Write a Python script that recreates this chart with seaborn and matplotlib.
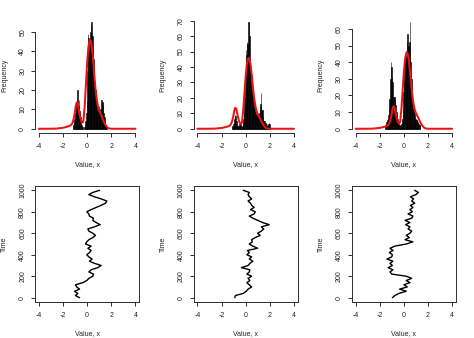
import numpy as np
import pandas as pd
import matplotlib
matplotlib.use("Agg")
import matplotlib.pyplot as plt
import seaborn as sns

# ---------------- data ----------------
BIN_W = 0.05

hist1_lo = -1.2
hist1_counts = [1, 2, 3, 5, 8, 11, 13, 15, 20, 12, 15, 9, 6, 3, 2, 1, 1, 0, 0, 1,
                2, 4, 8, 14, 30, 49, 47, 40, 45, 50, 53, 55, 48, 41, 36, 30, 24, 20,
                17, 12, 10, 9, 10, 12, 8, 6, 10, 15, 11, 14, 13, 8, 6, 4, 2, 1, 1]

hist2_lo = -1.15
hist2_counts = [1, 2, 3, 4, 6, 9, 8, 5, 3, 2, 1, 2, 3, 2, 3, 2, 1, 2, 4, 6, 10, 20,
                35, 51, 48, 56, 55, 69, 69, 60, 45, 40, 35, 30, 25, 20, 17, 14, 12,
                10, 9, 8, 8, 7, 8, 10, 15, 16, 23, 12, 12, 8, 5, 4, 5, 4, 3, 2, 3, 2,
                3, 4, 3]

hist3_lo = -1.6
hist3_counts = [1, 2, 3, 4, 5, 6, 8, 12, 18, 30, 40, 37, 31, 28, 19, 19, 19, 17, 14,
                10, 8, 6, 5, 3, 2, 2, 1, 2, 3, 6, 12, 22, 30, 40, 42, 47, 44, 52, 57,
                50, 45, 52, 64, 40, 30, 22, 16, 12, 10, 9, 7, 6, 5, 5, 4, 3, 3, 2, 2]

dens_x = [-4, -3, -2.5, -2.0, -1.8, -1.6, -1.4, -1.3, -1.2, -1.1, -1.0, -0.95, -0.9,
          -0.85, -0.8, -0.75, -0.7, -0.6, -0.5, -0.4, -0.35, -0.3, -0.2, -0.1, 0,
          0.1, 0.2, 0.25, 0.3, 0.4, 0.5, 0.6, 0.7, 0.8, 0.9, 1.0, 1.1, 1.2, 1.3, 1.4,
          1.5, 1.6, 1.7, 1.8, 2.0, 2.5, 3, 4]
dens_y = [0, 0, 0.1, 0.5, 0.8, 1.2, 1.7, 2.2, 3.2, 5.5, 9, 11.5, 13, 13.6, 13.2, 12,
          10, 6.5, 4, 3.2, 3.4, 4.5, 12, 23, 34, 42, 45.5, 46, 45.5, 42, 35, 27, 20,
          15, 11.5, 9.5, 8, 6.5, 4.8, 3.3, 2.2, 1.2, 0.5, 0.2, 0, 0, 0, 0]

trace_time = list(range(0, 1001, 20))
trace1 = [-0.63, -0.97, -0.77, -1.05, -0.63, -0.86, -0.97, -0.36, -0.03, 0.14, 0.47,
          0.52, 0.14, 0.33, 0.88, 1.16, 0.6, 0.19, 0.41, 0.14, -0.03, 0.19, 0.33, 0.06,
          0.33, -0.14, -0.03, 0.14, 0.47, 0.69, 0.47, 0.14, 0.06, 0.6, 1.08, 0.74, 0.47,
          0.52, 0.19, 0.14, -0.03, 0.33, 0.74, 1.16, 1.52, 1.63, 1.16, 0.6, 0.14, 0.47,
          1.02]
trace2 = [-0.9, -0.85, -0.2, 0.05, 0.2, 0.5, 0.3, 0.1, 0.35, 0.2, 0.5, 0.1, 0.3, 0.35,
          -0.35, 0.2, 0.35, 0.6, 0.3, 0.5, 0.1, 0.3, 0.15, 1.0, 0.6, 0.3, 0.55, 0.5, 0.8,
          1.2, 1.0, 1.3, 1.5, 1.3, 1.95, 1.4, 1.0, 0.6, 0.3, 0.7, 0.8, 0.4, 0.7, 0.5,
          0.4, 0.2, 0.5, 0.3, 0.2, 0.3, -0.2]
trace3 = [-0.95, -0.75, -0.4, 0.2, -0.35, 0.28, 0.0, 0.5, 0.2, 0.65, 0.2, -1.0, -1.15,
          -0.9, -1.3, -0.95, -1.15, -0.9, -1.4, -1.0, -0.95, -1.2, -0.9, -1.15, -0.75,
          0.2, 0.75, 0.1, 0.45, 0.2, 0.5, 0.65, 0.35, 0.5, 0.15, 0.5, 0.1, 0.65, 0.75,
          0.35, 0.7, 0.5, 0.75, 0.55, 0.9, 0.65, 0.8, 0.55, 1.0, 1.2, 0.9]

x_ticks = [-4, -2, 0, 2, 4]
time_ticks = [0, 200, 400, 600, 800, 1000]

# ---------------- style ----------------
sns.set_style("ticks")
plt.rcParams["font.family"] = ["Liberation Sans", "DejaVu Sans"]
FS = 5.0
LW = 0.72
TXT = "#222222"

W, H = 474, 338
fig = plt.figure(figsize=(W / 100, H / 100), dpi=100)
fig.patch.set_facecolor("white")

col_left = [35, 193.5, 351.7]
col_w = 104.3
row_top = [18, 186]
row_h = [115, 116]


def make_ax(c, r):
    l = col_left[c] / W
    b = 1 - (row_top[r] + row_h[r]) / H
    return fig.add_axes([l, b, col_w / W, row_h[r] / H])


def style(ax, ylab):
    ax.set_facecolor("white")
    ax.tick_params(axis="both", labelsize=FS, length=2.9, width=LW, color="#333333",
                   direction="out", labelcolor=TXT)
    ax.tick_params(axis="x", pad=4.0)
    ax.tick_params(axis="y", pad=3.4)
    for lab in ax.get_yticklabels():
        lab.set_rotation(90)
        lab.set_va("center")
    ax.set_xlabel("Value, x", fontsize=FS, labelpad=8.5, color=TXT)
    ax.set_ylabel(ylab, fontsize=FS, labelpad=8.0, color=TXT)
    for s in ax.spines.values():
        s.set_linewidth(LW)
        s.set_color("#333333")


hists = [(hist1_lo, hist1_counts), (hist2_lo, hist2_counts), (hist3_lo, hist3_counts)]
dens_df = pd.DataFrame({"x": dens_x, "y": dens_y})

for c, (lo, counts) in enumerate(hists):
    ax = make_ax(c, 0)
    n = len(counts)
    edges = [lo + BIN_W * k for k in range(n + 1)]
    centers = [lo + BIN_W * (k + 0.5) for k in range(n)]
    df = pd.DataFrame({"x": centers, "w": counts})
    sns.histplot(data=df, x="x", weights="w", bins=edges, color="black",
                 edgecolor="black", linewidth=0.4, alpha=1.0, ax=ax)
    sns.lineplot(data=dens_df, x="x", y="y", color="#ee1111", linewidth=1.45, ax=ax)
    ymax = max(counts)
    top = 1.04 * ymax
    ax.set_xlim(-4.32, 4.32)
    ax.set_ylim(-0.04 * ymax, top)
    ax.set_xticks(x_ticks)
    yt = [v for v in range(0, 200, 10) if v <= top]
    ax.set_yticks(yt)
    ax.set_xticklabels([str(t) for t in x_ticks])
    ax.set_yticklabels([str(t) for t in yt])
    ax.spines["top"].set_visible(False)
    ax.spines["right"].set_visible(False)
    ax.spines["left"].set_bounds(0, yt[-1])
    ax.spines["bottom"].set_bounds(-4, 4)
    style(ax, "Frequency")

traces = [trace1, trace2, trace3]
for c, tr in enumerate(traces):
    ax = make_ax(c, 1)
    df = pd.DataFrame({"x": tr, "t": trace_time})
    sns.lineplot(data=df, x="x", y="t", sort=False, estimator=None, color="black",
                 linewidth=1.0, ax=ax)
    ax.set_xlim(-4.32, 4.32)
    ax.set_ylim(-40, 1040)
    ax.set_xticks(x_ticks)
    ax.set_yticks(time_ticks)
    ax.set_xticklabels([str(t) for t in x_ticks])
    ax.set_yticklabels([str(t) for t in time_ticks])
    style(ax, "Time")

fig.savefig("out.png", dpi=100, facecolor="white")
